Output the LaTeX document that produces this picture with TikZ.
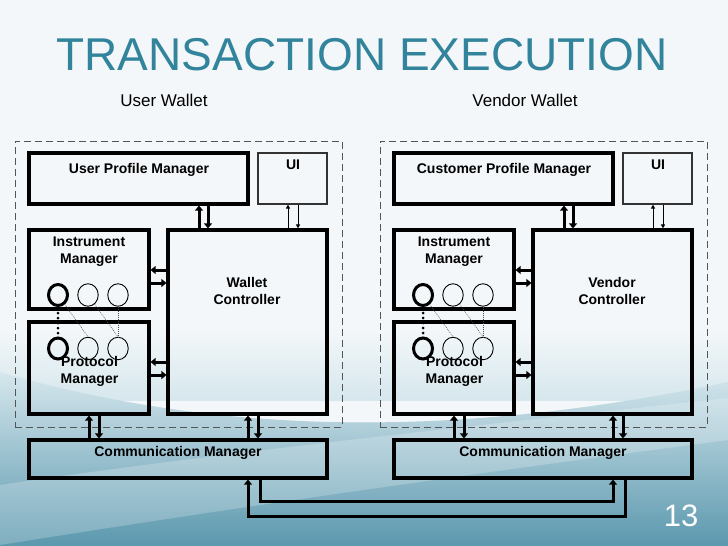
\documentclass[tikz,border=0pt]{standalone}
\usepackage{fontspec}
\setmainfont{Liberation Sans}
\usetikzlibrary{arrows.meta,shapes.geometric}
\definecolor{titlecol}{HTML}{31849B}
\definecolor{bgpale}{HTML}{F3F7F9}
\definecolor{bgmid}{HTML}{D6E7ED}
\definecolor{bgdeep}{HTML}{5B98AE}
\definecolor{dashcol}{HTML}{555555}
\tikzset{
  tbox/.style={draw=black, line width=3.2pt, inner sep=0pt},
  thinbox/.style={draw=black!80, line width=1.1pt, inner sep=0pt},
  dashbox/.style={draw=dashcol, line width=1pt, dash pattern=on 7pt off 4pt, inner sep=0pt},
  lbl/.style={font=\fontsize{14}{17}\selectfont\bfseries, inner sep=0pt, align=center},
  bigc/.style={ellipse, draw, line width=3pt, minimum width=19pt, minimum height=21pt, inner sep=0pt},
  smallc/.style={ellipse, draw, line width=0.9pt, minimum width=20.5pt, minimum height=22.5pt, inner sep=0pt},
  tarr/.style={line width=3pt, -{Triangle[length=5pt,width=8pt]}},
  narr/.style={line width=0.9pt, -{Triangle[length=4pt,width=4pt]}},
  thickdot/.style={line width=3pt, line cap=round, dash pattern=on 0pt off 5pt},
  thindot/.style={line width=0.5pt, dash pattern=on 1pt off 1pt, black!70},
}
\newcommand{\walletpanel}[4]{%
  \node[dashbox, minimum width=327pt, minimum height=286pt] (#1dash) at ({#2+178.5},284) {};
  \node[tbox, minimum width=219pt, minimum height=51pt] (#1prof) at ({#2+138.5},178.5) {};
  \node[thinbox, minimum width=69pt, minimum height=51pt] (#1ui) at ({#2+292.5},178.5) {};
  \node[tbox, minimum width=120pt, minimum height=79pt] (#1instr) at ({#2+89},269.5) {};
  \node[tbox, minimum width=159pt, minimum height=184pt] (#1ctrl) at ({#2+247.5},322) {};
  \node[tbox, minimum width=120pt, minimum height=92pt] (#1prot) at ({#2+89},368) {};
  \node[tbox, minimum width=298pt, minimum height=38pt] (#1comm) at ({#2+178},459) {};
  % circles
  \node[bigc] (#1ic1) at ({#2+58},295) {};
  \node[smallc] (#1ic2) at ({#2+88},295) {};
  \node[smallc] (#1ic3) at ({#2+118},295) {};
  \node[bigc] (#1pc1) at ({#2+58},348.5) {};
  \node[smallc] (#1pc2) at ({#2+88},348.5) {};
  \node[smallc] (#1pc3) at ({#2+118},348.5) {};
  \draw[thickdot] ([yshift=-6pt]#1ic1.south) -- (#1pc1.north);
  \draw[thindot] (#1ic1) -- (#1pc2.north);
  \draw[thindot] (#1ic2) -- (#1pc3.north);
  \draw[thindot] (#1ic3) -- (#1pc3);
  % labels
  \node[lbl] (#1proft) at ({#2+139},170) {#3};
  \node[lbl] (#1uit) at ({#2+293},165) {UI};
  \node[lbl] (#1instrt) at ({#2+89},252) {Instrument\\Manager};
  \node[lbl] (#1ctrlt) at ({#2+247},291) {#4\\Controller};
  \node[lbl] (#1prott) at ({#2+89.5},371) {Protocol\\Manager};
  \node[lbl] (#1commt) at ({#2+178},453) {Communication Manager};
  % arrows
  \draw[tarr] (#1ctrl.north -| {#2+199},0) -- (#1prof.south -| {#2+199},0);
  \draw[tarr] (#1prof.south -| {#2+208},0) -- (#1ctrl.north -| {#2+208},0);
  \draw[narr] (#1ctrl.north -| {#2+288},0) -- (#1ui.south -| {#2+288},0);
  \draw[narr] (#1ui.south -| {#2+298},0) -- (#1ctrl.north -| {#2+298},0);
  \draw[tarr] (#1ctrl.west |- 0,270) -- (#1instr.east |- 0,270);
  \draw[tarr] (#1instr.east |- 0,283) -- (#1ctrl.west |- 0,283);
  \draw[tarr] (#1ctrl.west |- 0,362) -- (#1prot.east |- 0,362);
  \draw[tarr] (#1prot.east |- 0,375) -- (#1ctrl.west |- 0,375);
  \draw[tarr] (#1comm.north -| {#2+89},0) -- (#1prot.south -| {#2+89},0);
  \draw[tarr] (#1prot.south -| {#2+99},0) -- (#1comm.north -| {#2+99},0);
  \draw[tarr] (#1comm.north -| {#2+248},0) -- (#1ctrl.south -| {#2+248},0);
  \draw[tarr] (#1ctrl.south -| {#2+258},0) -- (#1comm.north -| {#2+258},0);
}
\begin{document}
\begin{tikzpicture}[x=1pt,y=-1pt]
\useasboundingbox (0,0) rectangle (728,546);
% background
\fill[bgpale] (0,0) rectangle (728,546);
\shade[top color=bgpale, bottom color=bgmid] (0,330) rectangle (728,400);
\shade[top color=bgmid, bottom color=bgdeep] (0,372) .. controls (250,445) and (500,430) .. (728,382) -- (728,546) -- (0,546) -- cycle;
\fill[white, opacity=0.22] (0,485) .. controls (200,455) and (480,425) .. (728,398) -- (728,440) .. controls (500,470) and (250,505) .. (0,545) -- cycle;
% title
\node[text=titlecol, font=\fontsize{46}{50}\selectfont, inner sep=0pt] (title) at (362,55) {TRANSACTION EXECUTION};
\node[font=\fontsize{17}{20}\selectfont, inner sep=0pt] (uw) at (164,100) {User Wallet};
\node[font=\fontsize{17}{20}\selectfont, inner sep=0pt] (vw) at (525,100) {Vendor Wallet};
\walletpanel{L}{0}{User Profile Manager}{Wallet}
\walletpanel{R}{365}{Customer Profile Manager}{Vendor}
% links between communication managers
\draw[tarr] ([xshift=82pt]Lcomm.south) -- ++(0,22) -| ([xshift=70pt]Rcomm.south);
\draw[tarr] ([xshift=82pt]Rcomm.south) -- ++(0,37) -| ([xshift=70pt]Lcomm.south);
\node[text=white, font=\fontsize{31}{34}\selectfont, inner sep=0pt] (pg) at (681,516) {13};
\end{tikzpicture}
\end{document}
